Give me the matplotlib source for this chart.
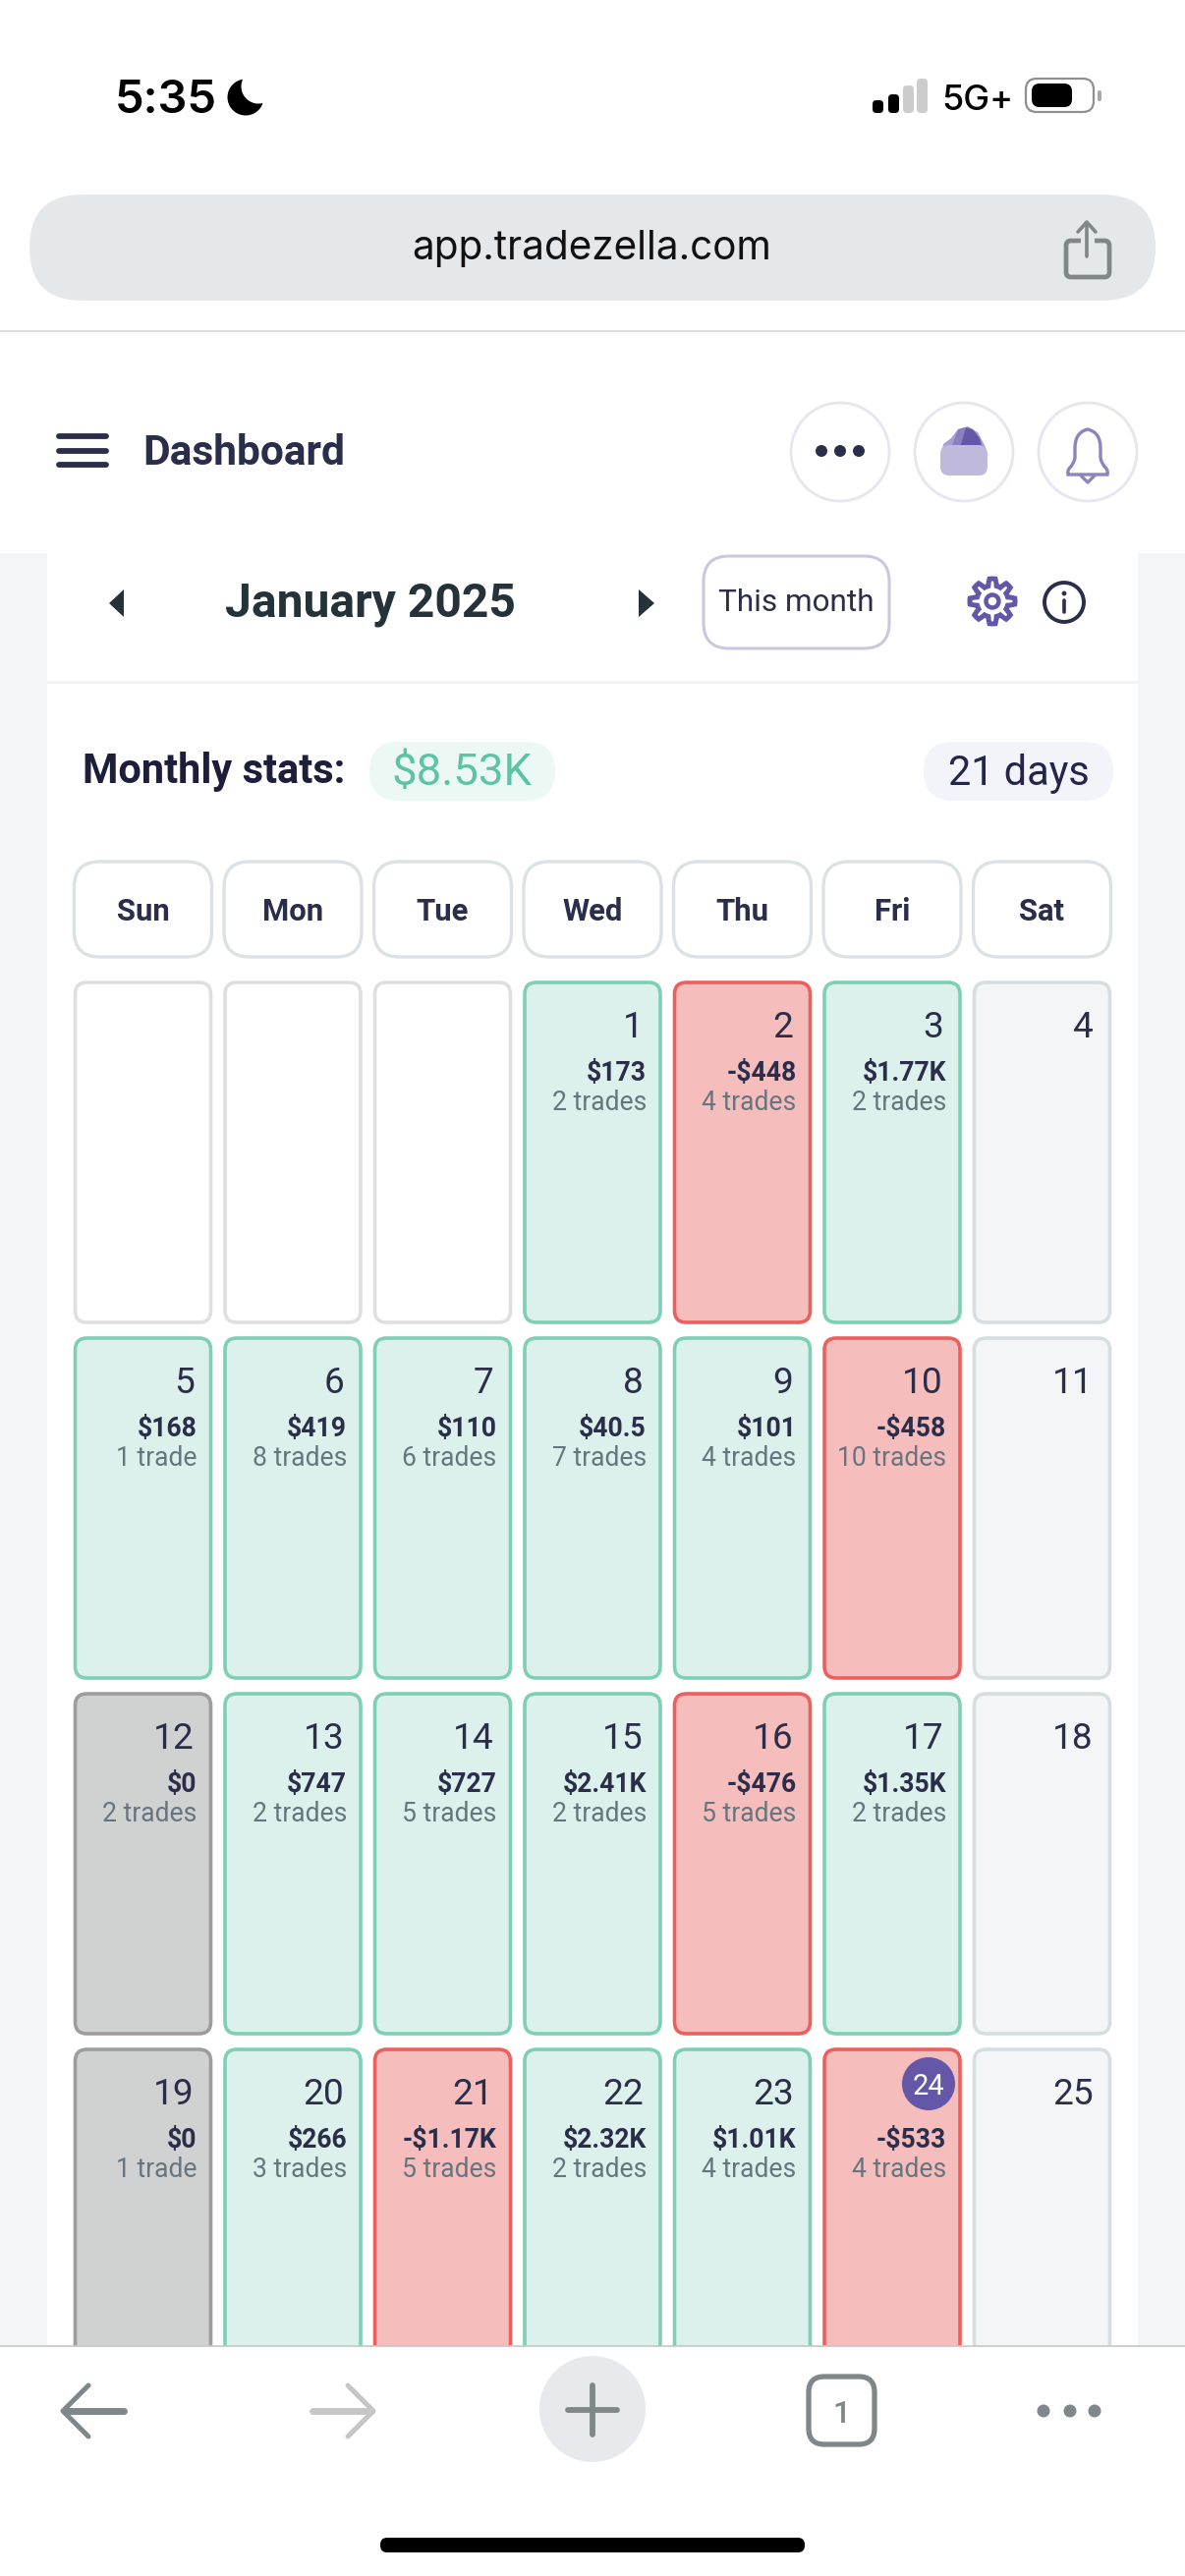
import numpy as np
import matplotlib
matplotlib.use("Agg")
import matplotlib.pyplot as plt
from matplotlib.patches import FancyBboxPatch, Circle, Rectangle, Polygon, PathPatch
from matplotlib.path import Path

# Calendar data
weekdays = ["Sun", "Mon", "Tue", "Wed", "Thu", "Fri", "Sat"]
days = [None, None, None, 1, 2, 3, 4,
        5, 6, 7, 8, 9, 10, 11,
        12, 13, 14, 15, 16, 17, 18,
        19, 20, 21, 22, 23, 24, 25]
amounts = [None, None, None, "$173", "-$448", "$1.77K", None,
           "$168", "$419", "$110", "$40.5", "$101", "-$458", None,
           "$0", "$747", "$727", "$2.41K", "-$476", "$1.35K", None,
           "$0", "$266", "-$1.17K", "$2.32K", "$1.01K", "-$533", None]
trades = [None, None, None, 2, 4, 2, None,
          1, 8, 6, 7, 4, 10, None,
          2, 2, 5, 2, 5, 2, None,
          1, 3, 5, 2, 4, 4, None]
month_label = "January 2025"
monthly_total = "$8.53K"
trading_days = "21 days"
today = 24

W, H = 1206, 2622
plt.rcParams["font.family"] = ["Roboto", "DejaVu Sans"]
fig = plt.figure(figsize=(W / 100, H / 100), dpi=100)
ax = fig.add_axes([0, 0, 1, 1])
ax.set_xlim(0, W)
ax.set_ylim(H, 0)
ax.axis("off")

NAVY = "#2b2e4a"
GREY_TXT = "#67757f"
PURPLE = "#6557a8"
ICON = "#7f878b"


def px(size):
    return size * 0.72


def rbox(x0, y0, x1, y1, r, fc="white", ec="none", lw=0, z=2):
    p = FancyBboxPatch((x0, y0), x1 - x0, y1 - y0, boxstyle=f"round,pad=0,rounding_size={r}",
                       fc=fc, ec=ec, lw=lw, zorder=z)
    ax.add_patch(p)
    return p


def label(x, y, s, size, color=NAVY, ha="center", weight="normal", family=None, z=5, va="baseline"):
    return ax.text(x, y, s, fontsize=px(size), color=color, ha=ha, va=va, fontweight=weight,
                   family=family if family else ["Roboto", "DejaVu Sans"], zorder=z)


def line(xs, ys, color, lw, z=6):
    ax.plot(xs, ys, color=color, lw=lw, solid_capstyle="round", solid_joinstyle="round", zorder=z)


# page background and side gutters
ax.add_patch(Rectangle((0, 563), W, 1825, fc="#f4f5f7", ec="none", zorder=0))
ax.add_patch(Rectangle((48, 563), 1110, 1825, fc="white", ec="none", zorder=1))

# status bar
label(117, 115, "5:35", 47, "black", ha="left", weight="semibold", family=["Inter"])
t = np.radians(np.linspace(19.4, 260.5, 50))
outer = np.c_[250 + 18.5 * np.cos(t), 99 + 18.5 * np.sin(t)]
t2 = np.radians(np.linspace(203.6, 76.8, 30))
inner = np.c_[263 + 17.5 * np.cos(t2), 88 + 17.5 * np.sin(t2)]
ax.add_patch(Polygon(np.r_[outer, inner], fc="black", ec="none", zorder=5))
signal_x = [888, 904, 919, 933]
signal_top = [102, 96, 87, 80]
signal_col = ["black", "black", "#cccccc", "#cccccc"]
for bx, by, bc in zip(signal_x, signal_top, signal_col):
    rbox(bx, by, bx + 11, 115, 4, fc=bc, z=5)
label(958, 112, "5G+", 36, "black", ha="left", weight="medium", family=["Inter"])
rbox(1044, 80, 1113, 114, 11, fc="white", ec="#8f8f8f", lw=1.6, z=5)
rbox(1050, 85, 1091, 109, 8, fc="black", z=6)
rbox(1117, 92, 1121, 103, 2, fc="#a8a8a8", z=5)

# address bar
rbox(30, 198, 1176, 306, 54, fc="#e5e8eb")
label(602, 264, "app.tradezella.com", 40.5, "#111111", family=["Inter"])
rbox(1085, 245, 1129, 282, 5, fc="none", ec=ICON, lw=3.4, z=5)
ax.add_patch(Rectangle((1100, 232), 14, 18, fc="#e5e8eb", ec="none", zorder=5))
line([1106, 1106], [228, 261], ICON, 2.6)
line([1097, 1106, 1115], [236, 226, 236], ICON, 2.6)
ax.plot([0, W], [337, 337], color="#d8d8d8", lw=1.2, zorder=3)

# dashboard header
for hy in [444, 459, 473]:
    line([60, 108], [hy, hy], NAVY, 4.2)
label(145, 473, "Dashboard", 42.5, NAVY, ha="left", weight="bold")
for cx in [855, 981, 1107]:
    ax.add_patch(Circle((cx, 460), 50, fc="white", ec="#e6e5f0", lw=2, zorder=3))
for dx in [-19, 0, 19]:
    ax.add_patch(Circle((855 + dx, 459), 6, fc=NAVY, ec="none", zorder=5))
# wallet
ax.add_patch(Polygon([[958, 465], [960, 452], [968, 446], [975, 437], [985, 434], [995, 440], [1003, 455], [1005, 470]],
                     fc="#a79fd2", ec="none", zorder=4))
ax.add_patch(Polygon([[968, 456], [975, 437], [983, 435], [979, 456]], fc="#8a7fc0", ec="none", zorder=5))
ax.add_patch(Polygon([[977, 456], [983, 435], [990, 437], [997, 446], [1000, 456]], fc=PURPLE, ec="none", zorder=5))
rbox(957, 453, 1005, 484, 9, fc="#bfb9dc", z=6)
# bell
bell_pts = [(1107, 437), (1094, 440), (1094, 456), (1094, 466), (1093, 472), (1088, 477),
            (1086, 480), (1087, 483), (1127, 483), (1128, 480), (1126, 477), (1121, 472),
            (1120, 466), (1120, 456), (1120, 440), (1107, 437), (1107, 437)]
bell_codes = [Path.MOVETO, Path.CURVE3, Path.CURVE3, Path.LINETO, Path.CURVE3, Path.CURVE3,
              Path.CURVE3, Path.CURVE3, Path.LINETO, Path.CURVE3, Path.CURVE3, Path.CURVE3,
              Path.CURVE3, Path.LINETO, Path.CURVE3, Path.CURVE3, Path.CLOSEPOLY]
ax.add_patch(PathPatch(Path(bell_pts, bell_codes), fc="white", ec="#8b84bd", lw=2.4, zorder=5))
line([1100, 1107, 1114], [484, 491, 484], "#8b84bd", 2.4)

# calendar toolbar
ax.add_patch(Polygon([[126, 600], [111, 614], [126, 628]], fc="#26323a", ec="none", closed=True, zorder=5))
ax.add_patch(Polygon([[650, 600], [666, 614], [650, 628]], fc="#26323a", ec="none", closed=True, zorder=5))
label(377, 628, month_label, 48, "#26323a", weight="bold")
rbox(716, 566, 905, 660, 26, fc="white", ec="#c9c8e0", lw=2.2)
label(810, 622, "This month", 31.5, NAVY)
# gear
ang = np.linspace(0, 2 * np.pi, 97)[:-1]
rad = 19.5 + 3.5 * np.clip(np.cos(8 * ang) * 2.2, -1, 1)
gear = np.c_[1010 + rad * np.cos(ang), 612 + rad * np.sin(ang)]
ax.add_patch(Polygon(gear, fc="white", ec=PURPLE, lw=3.6, zorder=5))
ax.add_patch(Circle((1010, 612), 6.5, fc="white", ec=PURPLE, lw=3.2, zorder=6))
ax.add_patch(Circle((1083, 613), 20, fc="white", ec=NAVY, lw=2.8, zorder=5))
ax.add_patch(Circle((1083, 604), 2.4, fc=NAVY, ec="none", zorder=6))
line([1083, 1083], [611, 623], NAVY, 2.6)
ax.plot([48, 1158], [694, 694], color="#f2f3f6", lw=2.2, zorder=3)

# monthly stats
label(84, 797, "Monthly stats:", 41.5, "#1d1f3a", ha="left", weight="bold")
rbox(376, 755, 565, 815, 30, fc="#ecf8f4")
label(470, 799, monthly_total, 45.5, "#5cc4a4")
rbox(940, 755, 1133, 815, 30, fc="#f3f3fa")
label(1037, 799, trading_days, 41.5, "#23254a")

# weekday headers
col_x = 75.5 + 152.5 * np.arange(7)
cell_w = 140
for x0, wd in zip(col_x, weekdays):
    rbox(x0, 877, x0 + cell_w, 974, 26, fc="white", ec="#dbe1e4", lw=2.4)
    label(x0 + cell_w / 2, 937, wd, 31, NAVY, weight="bold")

# day cells
row_y = [1000, 1362, 1724, 2086]
cell_h = 346
for i, day in enumerate(days):
    row, col = divmod(i, 7)
    x0, y0 = col_x[col] + 1, row_y[row]
    x1 = x0 + cell_w - 2
    if day is None:
        fc, ec = "white", "#dfdfdf"
    elif amounts[i] is None:
        fc, ec = "#f4f5f7", "#d6dee1"
    elif amounts[i] == "$0":
        fc, ec = "#d0d1d1", "#a09c9c"
    elif amounts[i].startswith("-"):
        fc, ec = "#f6bdbd", "#ec5f5f"
    else:
        fc, ec = "#dcf1eb", "#7fcfb5"
    rbox(x0, y0, x1, y0 + cell_h, 12, fc=fc, ec=ec, lw=2.6)
    if day is None:
        continue
    if day == today:
        ax.add_patch(Circle((945, y0 + 35), 27, fc=PURPLE, ec="none", zorder=4))
        label(945, y0 + 46, str(day), 29, "white")
    else:
        label(x1 - 17, y0 + 56, str(day), 37, NAVY, ha="right")
    if amounts[i] is not None:
        label(x1 - 14, y0 + 100, amounts[i], 26.5, NAVY, ha="right", weight="bold")
        word = "trade" if trades[i] == 1 else "trades"
        label(x1 - 14, y0 + 130, f"{trades[i]} {word}", 26.5, GREY_TXT, ha="right")

# browser bottom bar
ax.add_patch(Rectangle((0, 2388), W, H - 2388, fc="white", ec="none", zorder=7))
ax.plot([0, W], [2388, 2388], color="#c4c8ca", lw=1.2, zorder=8)
line([126, 66], [2454, 2454], ICON, 5, z=9)
line([90, 64, 90], [2428, 2454, 2480], ICON, 3.6, z=9)
line([318, 378], [2454, 2454], "#c6c6c6", 5, z=9)
line([354, 380, 354], [2428, 2454, 2480], "#c6c6c6", 3.6, z=9)
ax.add_patch(Circle((603, 2452), 54, fc="#e8e9ed", ec="none", zorder=8))
line([603, 603], [2428, 2478], ICON, 4.2, z=9)
line([578, 628], [2453, 2453], ICON, 4.2, z=9)
rbox(823, 2419, 890, 2488, 16, fc="white", ec=ICON, lw=3.8, z=9)
label(857, 2466, "1", 32, ICON, z=10, weight="medium")
for dx in [1062, 1089, 1114]:
    ax.add_patch(Circle((dx, 2454), 6.5, fc=ICON, ec="none", zorder=9))
rbox(387, 2583, 819, 2598, 7, fc="black", z=9)

fig.savefig("out.png", dpi=100)
